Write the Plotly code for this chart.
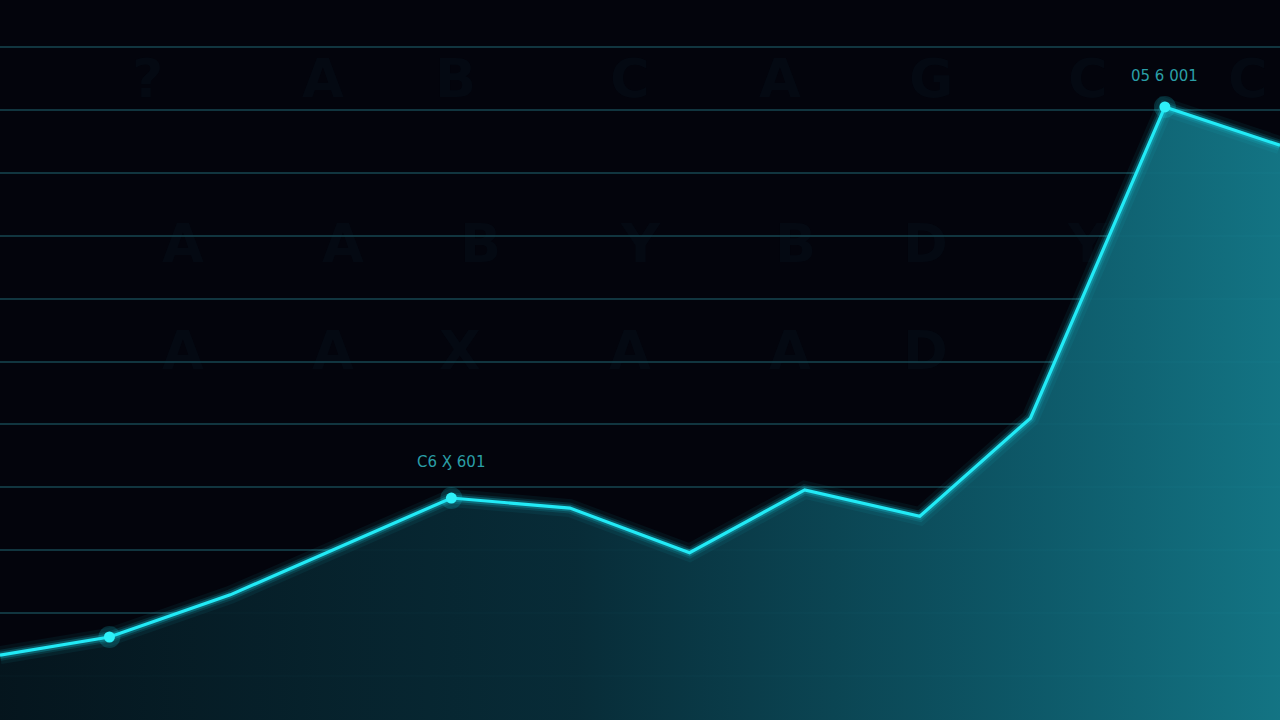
import plotly.graph_objects as go

# ---- data ----
x_pos = [0, 0.96, 2.02, 3.96, 5.0, 6.05, 7.06, 8.07, 9.04, 10.22, 11.23]
values = [3.3, 6.2, 12.9, 28.3, 26.7, 19.6, 29.6, 25.4, 41.0, 90.5, 84.4]
marker_idx = [1, 3, 9]
label_texts = ["C6 Ӽ 601", "05 6 001"]
label_idx = [3, 9]
bg_letters_row1 = ["?", "A", "B", "C", "A", "G", "C", "C"]
bg_letters_row2 = ["A", "A", "B", "Y", "B", "D", "Y"]
bg_letters_row3 = ["A", "A", "X", "A", "A", "D"]

Y_MIN, Y_MAX = -7.0, 107.5
X_MIN, X_MAX = 0, 11.23

fig = go.Figure()

# baseline for fill
fig.add_trace(go.Scatter(x=[X_MIN, X_MAX], y=[Y_MIN, Y_MIN], mode="lines",
                         line=dict(width=0), hoverinfo="skip", showlegend=False))
fig.add_trace(go.Scatter(x=x_pos, y=values, mode="lines", line=dict(width=0),
                         fill="tonexty",
                         fillgradient=dict(type="horizontal",
                                           colorscale=[[0, "rgba(5,22,30,0.95)"],
                                                       [0.45, "rgba(8,46,58,0.95)"],
                                                       [0.8, "rgba(14,92,108,0.95)"],
                                                       [1, "rgba(20,122,138,0.95)"]]),
                         hoverinfo="skip", showlegend=False))

# glow layers
for w, op in [(18, 0.06), (11, 0.12), (7, 0.25)]:
    fig.add_trace(go.Scatter(x=x_pos, y=values, mode="lines",
                             line=dict(color="#18d8ea", width=w), opacity=op,
                             hoverinfo="skip", showlegend=False))
fig.add_trace(go.Scatter(x=x_pos, y=values, mode="lines",
                         line=dict(color="#22eaf6", width=3.2), showlegend=False))

mx = [x_pos[i] for i in marker_idx]
my = [values[i] for i in marker_idx]
fig.add_trace(go.Scatter(x=mx, y=my, mode="markers",
                         marker=dict(size=22, color="#18d8ea", opacity=0.18),
                         hoverinfo="skip", showlegend=False))
fig.add_trace(go.Scatter(x=mx, y=my, mode="markers",
                         marker=dict(size=11, color="#2ef0f8"), showlegend=False))

# value labels
for t, i, ys in zip(label_texts, label_idx, [36, 31]):
    fig.add_annotation(x=x_pos[i], y=values[i], text=t, showarrow=False,
                       yshift=ys, font=dict(family="DejaVu Sans", size=15, color="#2a9ea6"))

# faint background letters
letter_color = "rgba(30,80,90,0.08)"
rows = [(bg_letters_row1, [130, 300, 455, 630, 780, 955, 1110, 1270], 45),
        (bg_letters_row2, [160, 320, 480, 640, 795, 950, 1110], 210),
        (bg_letters_row3, [160, 310, 460, 630, 790, 950], 350)]
for letters, xs, ypix in rows:
    for ch, xp in zip(letters, xs):
        fig.add_annotation(xref="paper", yref="paper", x=xp / 1280, y=1 - ypix / 720,
                           text="<b>" + ch + "</b>", showarrow=False,
                           font=dict(family="DejaVu Sans", size=54, color=letter_color))

fig.update_layout(
    width=1280, height=720,
    margin=dict(l=0, r=0, t=0, b=0),
    paper_bgcolor="#03040c", plot_bgcolor="#03040c",
    showlegend=False,
    xaxis=dict(range=[X_MIN, X_MAX], showgrid=False, zeroline=False,
               showticklabels=False, fixedrange=True),
    yaxis=dict(range=[Y_MIN, Y_MAX], tick0=0, dtick=10, showgrid=True,
               gridcolor="rgba(30,95,105,0.55)", gridwidth=2, zeroline=False,
               showticklabels=False, fixedrange=True),
)

fig.write_html("out.html", config={"displayModeBar": False},
               post_script="document.body.style.margin='0';document.body.style.background='#03040c';")
